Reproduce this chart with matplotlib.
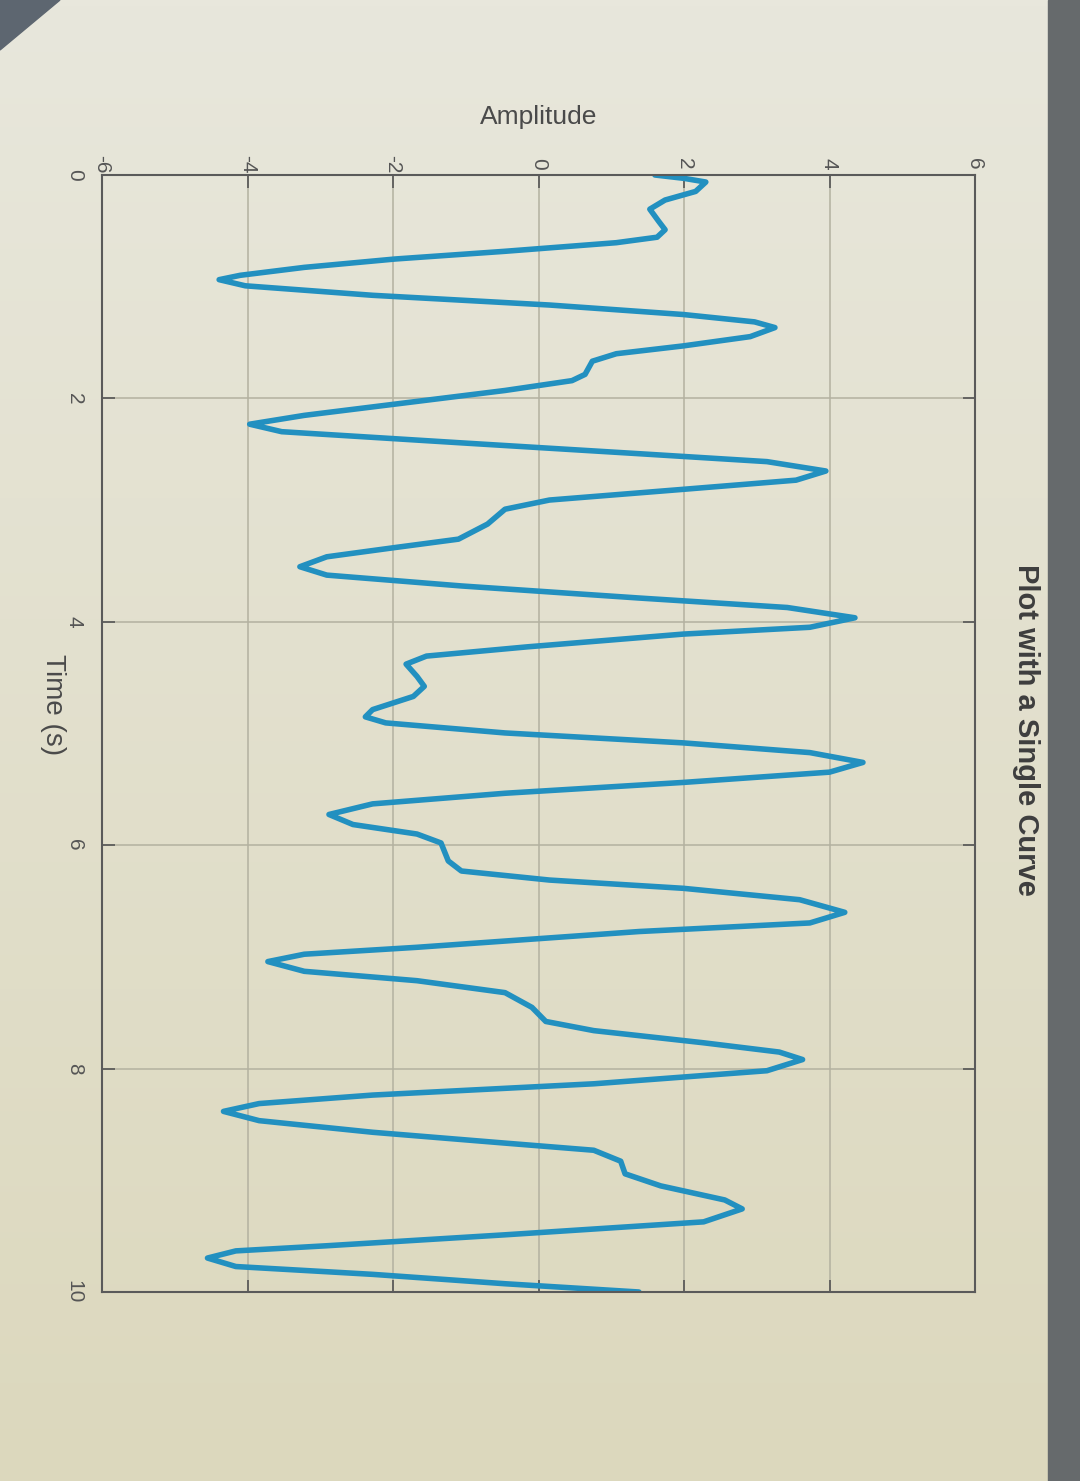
import matplotlib.pyplot as plt
import numpy as np

# values (time in s, amplitude)
time = [0.00, 0.03, 0.063, 0.147, 0.224, 0.306, 0.413, 0.490, 0.557, 0.606,
        0.683, 0.752, 0.827, 0.898, 0.937, 0.992, 1.077, 1.164, 1.249, 1.315,
        1.366, 1.447, 1.530, 1.600, 1.667, 1.785, 1.841, 1.929, 2.051, 2.152,
        2.231, 2.298, 2.398, 2.495, 2.566, 2.650, 2.732, 2.814, 2.910, 2.992,
        3.125, 3.260, 3.335, 3.418, 3.507, 3.582, 3.679, 3.787, 3.872, 3.964,
        4.049, 4.110, 4.224, 4.307, 4.379, 4.489, 4.578, 4.668, 4.786, 4.851,
        4.905, 4.995, 5.084, 5.171, 5.259, 5.346, 5.438, 5.535, 5.630, 5.725,
        5.815, 5.900, 5.980, 6.141, 6.231, 6.312, 6.386, 6.488, 6.601, 6.696,
        6.773, 6.914, 6.976, 7.042, 7.129, 7.213, 7.320, 7.452, 7.578, 7.660,
        7.769, 7.852, 7.919, 8.019, 8.136, 8.237, 8.313, 8.383, 8.466, 8.570,
        8.667, 8.731, 8.829, 8.942, 9.050, 9.176, 9.256, 9.372, 9.488, 9.586,
        9.632, 9.696, 9.772, 9.842, 9.926, 10.00]
amplitude = [1.60, 2.00, 2.30, 2.16, 1.74, 1.53, 1.65, 1.74, 1.63, 1.07,
             -0.46, -1.97, -3.22, -4.10, -4.39, -4.03, -2.28, 0.15, 1.99, 2.97,
             3.25, 2.91, 1.99, 1.07, 0.74, 0.64, 0.46, -0.46, -1.97, -3.22,
             -3.97, -3.53, -1.06, 1.38, 3.14, 3.95, 3.54, 1.99, 0.15, -0.46,
             -0.70, -1.10, -1.97, -2.91, -3.28, -2.91, -1.06, 1.38, 3.42, 4.35,
             3.73, 1.99, -0.15, -1.54, -1.82, -1.67, -1.57, -1.72, -2.28, -2.38,
             -2.10, -0.46, 1.99, 3.73, 4.46, 4.00, 1.99, -0.46, -2.28, -2.88,
             -2.55, -1.67, -1.34, -1.24, -1.06, 0.15, 1.99, 3.59, 4.21, 3.73,
             1.38, -1.67, -3.22, -3.72, -3.22, -1.67, -0.46, -0.09, 0.10, 0.76,
             2.27, 3.31, 3.63, 3.14, 0.76, -2.28, -3.84, -4.33, -3.84, -2.28,
             -0.46, 0.76, 1.13, 1.19, 1.68, 2.56, 2.80, 2.27, -0.46, -2.91,
             -4.16, -4.55, -4.16, -2.28, -0.46, 1.38]

amp_ticks = [-6, -4, -2, 0, 2, 4, 6]
time_ticks = [0, 2, 4, 6, 8, 10]

plt.rcParams['font.family'] = ['Liberation Sans', 'DejaVu Sans']
plt.rcParams['axes.unicode_minus'] = False

W, H = 1080, 1481
fig = plt.figure(figsize=(W / 100, H / 100), dpi=100)

# photo background: soft vertical gradient plus dark screen bezel on the right
bg = fig.add_axes([0, 0, 1, 1], zorder=-10)
grad = np.linspace(0, 1, 256).reshape(-1, 1)
bg.imshow(grad, extent=[0, 1, 0, 1], aspect='auto',
          cmap=plt.matplotlib.colors.LinearSegmentedColormap.from_list(
              'bg', ['#dcd8bd', '#e8e7dc']), origin='lower')
bg.add_patch(plt.Rectangle((1048 / W, 0), 32 / W, 1, color='#666a6c'))
bg.add_patch(plt.Polygon([[0, 1], [60 / W, 1], [0, 1 - 50 / H]], color='#5d6670'))
bg.set_xlim(0, 1)
bg.set_ylim(0, 1)
bg.axis('off')

left, right, top, bottom = 102, 975, 175, 1292
ax = fig.add_axes([left / W, 1 - bottom / H, (right - left) / W, (bottom - top) / H])
ax.set_facecolor('none')

ax.plot(amplitude, time, color='#2290c0', linewidth=4, solid_capstyle='round',
        solid_joinstyle='round')

ax.set_xlim(-6, 6)
ax.set_ylim(10, 0)
ax.set_xticks(amp_ticks)
ax.set_yticks(time_ticks)
ax.xaxis.tick_top()
ax.tick_params(axis='both', direction='in', length=9, width=1.2, color='#555555',
               top=True, bottom=True, left=True, right=True,
               labeltop=True, labelbottom=False, labelsize=15,
               labelcolor='#555555')
ax.tick_params(axis='x', pad=8)
ax.tick_params(axis='y', pad=20)
for lab in ax.get_xticklabels() + ax.get_yticklabels():
    lab.set_rotation(-90)
    lab.set_va('center')
    lab.set_ha('center')

ax.grid(True, color='#b3b1a0', linewidth=1.1)
for s in ax.spines.values():
    s.set_color('#5a5a5a')
    s.set_linewidth(1.5)

ax.xaxis.set_label_position('top')
ax.set_xlabel('Amplitude', fontsize=19, color='#4a4a4a', labelpad=22)
ax.set_ylabel('Time (s)', fontsize=20, color='#4a4a4a', rotation=-90)
ax.yaxis.set_label_coords(-62 / (right - left), 1 - (705 - top) / (bottom - top))

fig.text(1026 / W, 1 - 730 / H, 'Plot with a Single Curve', rotation=-90,
         fontsize=21, fontweight='bold', color='#3e3e3e', ha='center', va='center')

plt.savefig('out.png', dpi=100)
